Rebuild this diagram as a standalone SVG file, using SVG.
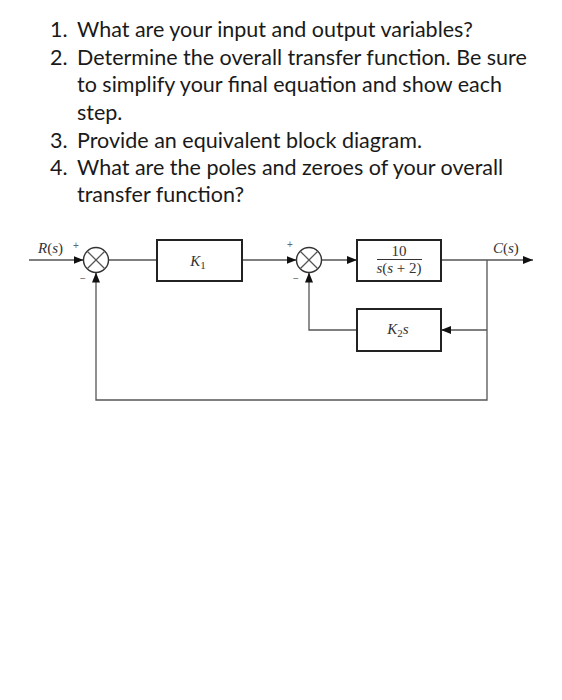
<svg xmlns="http://www.w3.org/2000/svg" width="562" height="700" viewBox="0 0 562 700">
<defs>
<style>
.q{font-family:Lato,"Open Sans",sans-serif;font-size:21.5px;fill:#1a1a1a}
.m{font-family:"Liberation Serif","Times New Roman",serif;font-size:15px;fill:#333}
.i{font-style:italic}
.s{font-family:"Liberation Sans",Arial,sans-serif;font-size:10px;fill:#666}
.box{fill:#fff;stroke:#222;stroke-width:2}
.ln{fill:none;stroke:#555;stroke-width:1.3}
.sj{fill:#fff;stroke:#333;stroke-width:1.4}
</style>
<marker id="ah" viewBox="0 0 10 8" refX="10" refY="4" markerWidth="10" markerHeight="8" markerUnits="userSpaceOnUse" orient="auto">
<path d="M0,0 L10,4 L0,8 Z" fill="#111"/>
</marker>
</defs>
<rect width="562" height="700" fill="#fff"/>
<g id="questions">
<text class="q" x="50" y="37">1.</text><text class="q" x="77" y="37">What are your input and output variables?</text>
<text class="q" x="50" y="65">2.</text><text class="q" x="77" y="65">Determine the overall transfer function. Be sure</text>
<text class="q" x="77" y="92">to simplify your final equation and show each</text>
<text class="q" x="77" y="120">step.</text>
<text class="q" x="50" y="148">3.</text><text class="q" x="77" y="148">Provide an equivalent block diagram.</text>
<text class="q" x="50" y="175">4.</text><text class="q" x="77" y="175">What are the poles and zeroes of your overall</text>
<text class="q" x="77" y="202">transfer function?</text>
</g>
<g id="connectors">
<line class="ln" x1="29" y1="260" x2="83.5" y2="260" marker-end="url(#ah)"/>
<line class="ln" x1="108.5" y1="260" x2="157" y2="260"/>
<line class="ln" x1="242" y1="260" x2="296.5" y2="260" marker-end="url(#ah)"/>
<line class="ln" x1="321.5" y1="260" x2="357" y2="260" marker-end="url(#ah)"/>
<line class="ln" x1="441" y1="260" x2="533" y2="260" marker-end="url(#ah)"/>
<polyline class="ln" points="487,260 487,400 96,400 96,272.5" marker-end="url(#ah)"/>
<line class="ln" x1="487" y1="330" x2="441" y2="330" marker-end="url(#ah)"/>
<polyline class="ln" points="357,330 309,330 309,272.5" marker-end="url(#ah)"/>
</g>
<g id="sum1">
<circle class="sj" cx="96" cy="260" r="12.5"/>
<path class="ln" d="M87.2,251.2 L104.8,268.8 M104.8,251.2 L87.2,268.8" stroke="#333"/>
<text class="s" x="76" y="249" text-anchor="middle">+</text>
<text class="s" x="83" y="282" text-anchor="middle">−</text>
</g>
<g id="K1">
<rect class="box" x="157" y="240" width="85" height="41"/>
<text class="m" x="198" y="266" text-anchor="middle"><tspan class="i">K</tspan><tspan font-size="11" dy="3">1</tspan></text>
</g>
<g id="sum2">
<circle class="sj" cx="309" cy="260" r="12.5"/>
<path class="ln" d="M300.2,251.2 L317.8,268.8 M317.8,251.2 L300.2,268.8" stroke="#333"/>
<text class="s" x="290" y="248" text-anchor="middle">+</text>
<text class="s" x="296" y="282" text-anchor="middle">−</text>
</g>
<g id="G">
<rect class="box" x="357" y="240" width="84" height="41"/>
<text class="m" x="399" y="256" text-anchor="middle">10</text>
<line x1="377" y1="259.5" x2="422" y2="259.5" stroke="#333" stroke-width="1"/>
<text class="m" x="399" y="273" text-anchor="middle"><tspan class="i">s</tspan>(<tspan class="i">s</tspan> + 2)</text>
</g>
<g id="K2s">
<rect class="box" x="357" y="309" width="84" height="42"/>
<text class="m" x="398" y="334" text-anchor="middle"><tspan class="i">K</tspan><tspan font-size="11" dy="3">2</tspan><tspan class="i" dy="-3">s</tspan></text>
</g>
<g id="labels">
<text class="m" x="38" y="253"><tspan class="i">R</tspan>(<tspan class="i">s</tspan>)</text>
<text class="m" x="493" y="253"><tspan class="i">C</tspan>(<tspan class="i">s</tspan>)</text>
</g>
</svg>
